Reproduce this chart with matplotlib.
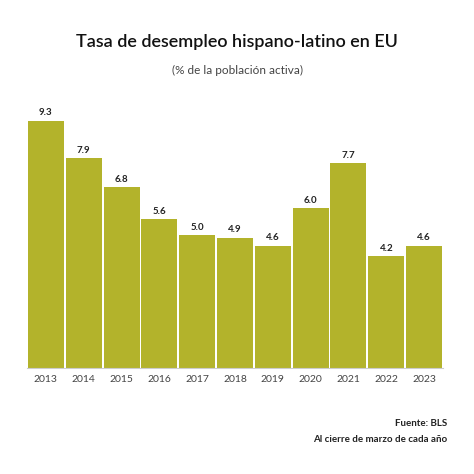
import matplotlib.pyplot as plt

years = ["2013","2014","2015","2016","2017","2018","2019","2020","2021","2022","2023"]
values = [9.3, 7.9, 6.8, 5.6, 5.0, 4.9, 4.6, 6.0, 7.7, 4.2, 4.6]

plt.rcParams['font.family'] = ['Lato', 'DejaVu Sans']
fig = plt.figure(figsize=(4.74, 4.74), dpi=100)
ax = fig.add_axes([27/474, (474-368)/474, 416/474, 266/474])
x = range(len(years))
bars = ax.bar(x, values, width=0.95, color='#b3b32b')
for i, v in zip(x, values):
    ax.text(i, v + 0.12, f"{v:.1f}", ha='center', va='bottom', fontsize=7, fontweight='bold', color='#222222')
ax.set_xlim(-0.5, len(years) - 0.5)
ax.set_ylim(0, 10)
ax.set_xticks(list(x))
ax.set_xticklabels(years, fontsize=7.5, color='#444444')
ax.tick_params(axis='x', length=0, pad=5)
ax.set_yticks([])
for s in ['top', 'right', 'left']:
    ax.spines[s].set_visible(False)
ax.spines['bottom'].set_color('#cccccc')

fig.text(0.5, 1 - 42/474, "Tasa de desempleo hispano-latino en EU", ha='center', va='center', fontsize=13, fontweight='semibold', color='#111111')
fig.text(0.5, 1 - 70/474, "(% de la población activa)", ha='center', va='center', fontsize=8.5, color='#444444')
fig.text(447/474, 1 - 423/474, "Fuente: BLS", ha='right', va='center', fontsize=7, fontweight='bold', color='#222222')
fig.text(447/474, 1 - 440/474, "Al cierre de marzo de cada año", ha='right', va='center', fontsize=7, fontweight='bold', color='#222222')
fig.savefig('out.png', dpi=100, facecolor='white')
